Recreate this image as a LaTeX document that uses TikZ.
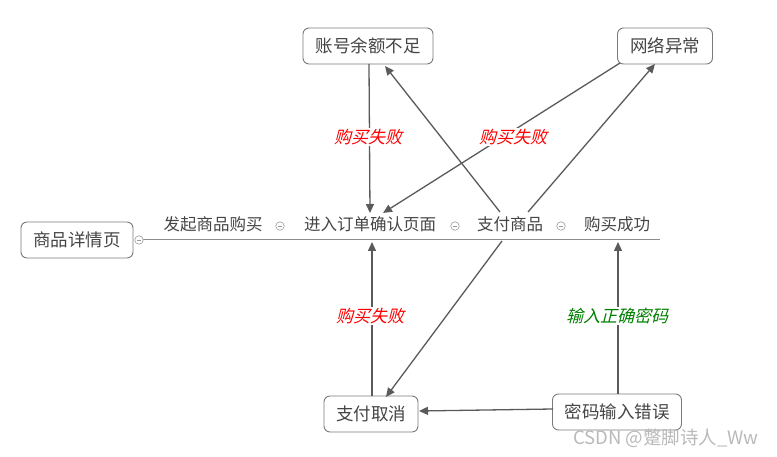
\documentclass[tikz,border=0pt]{standalone}
\usepackage{fontspec}
\setmainfont{Noto Sans CJK SC}
\newfontfamily\cjkit{Noto Sans CJK SC}[FakeSlant=0.25]
\usetikzlibrary{arrows.meta}
\definecolor{boxline}{HTML}{7A7A7A}
\definecolor{arr}{HTML}{5A5A5A}
\definecolor{txt}{HTML}{454545}
\definecolor{okgreen}{HTML}{008000}
\tikzset{
  box/.style={draw=boxline, line width=0.9pt, rounded corners=6pt, fill=white, text=txt,
    font=\fontsize{17.5}{19}\selectfont, minimum height=36pt, inner xsep=6pt},
  lab/.style={text=txt, font=\fontsize{16.5}{18}\selectfont, inner sep=2pt},
  fail/.style={text=red, font=\cjkit\fontsize{17}{18}\selectfont, fill=white, inner sep=1pt},
  ok/.style={text=okgreen, font=\cjkit\fontsize{17}{18}\selectfont, fill=white, inner sep=1pt},
  conn/.style={draw=arr, line width=1.3pt, -{Triangle[length=9pt,width=8pt]}},
  minus/.style={circle, draw=gray!80, line width=0.6pt, minimum size=8.5pt, inner sep=0pt, fill=white,
    path picture={\draw[gray!80, line width=0.6pt] ([xshift=-2pt]path picture bounding box.center) -- ([xshift=2pt]path picture bounding box.center);}},
}
\begin{document}
\begin{tikzpicture}[x=1pt,y=-1pt]
\useasboundingbox (0,0) rectangle (777,457);
% main line
\coordinate (lstart) at (143,240);
\coordinate (lend) at (660,240);
\draw[gray!90, line width=1pt] (lstart) -- (lend);
\node[box, minimum width=112pt] (detail) at (77,240) {商品详情页};
\node[minus] (c0) at (139,240) {};
% labels on line
\node[lab] (start) at (213,224) {发起商品购买};
\node[minus] (c1) at (280,226) {};
\node[lab] (order) at (370,224) {进入订单确认页面};
\node[minus] (c2) at (455,226) {};
\node[lab] (pay) at (510,224) {支付商品};
\node[minus] (c3) at (561,226) {};
\node[lab] (succ) at (617,224) {购买成功};
% boxes
\node[box, minimum width=130pt] (yue) at (368,46) {账号余额不足};
\node[box, minimum width=95pt] (net) at (665,46) {网络异常};
\node[box, minimum width=94pt] (cancel) at (371,414) {支付取消};
\node[box, minimum width=129pt] (pwd) at (617,412) {密码输入错误};
% coordinates
\coordinate (orderTop) at (370,213);
\coordinate (orderTopR) at (383,213);
\coordinate (payTopL) at (500,212);
\coordinate (payTopR) at (528,212);
\coordinate (payBot) at (502,241);
\coordinate (lineA) at (372,242);
\coordinate (lineB) at (618,242);
% connectors
\draw[conn] (369,64) -- (orderTop);
\draw[conn] (620,63) -- (orderTopR);
\draw[conn] (payTopL) -- (385,66);
\draw[conn] (payTopR) -- (655,64);
\draw[conn] (payBot) -- (386,397);
\draw[conn] (372,396) -- (lineA);
\draw[conn] (618,394) -- (lineB);
\draw[conn] (553,409) -- (419,411);
% edge labels
\node[fail] (f1) at (368,137) {购买失败};
\node[fail] (f2) at (513,137) {购买失败};
\node[fail] (f3) at (370,316) {购买失败};
\node[ok] (ok1) at (617,316) {输入正确密码};
% watermark
\node[text=gray!55, font=\fontsize{18.5}{20}\selectfont, inner sep=0pt] (wm) at (666,438) {CSDN @蹩脚诗人\_Ww};
\end{tikzpicture}
\end{document}
